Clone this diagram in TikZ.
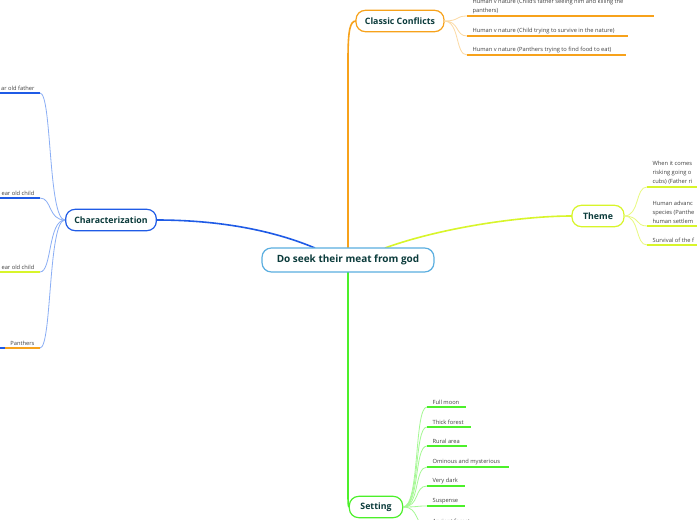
\documentclass[tikz,border=0pt]{standalone}
\usepackage{fontspec}
\setmainfont{Open Sans}
\definecolor{cor}{HTML}{F7A21B}
\definecolor{cyg}{HTML}{D8F52A}
\definecolor{cbl}{HTML}{1F5BE6}
\definecolor{clb}{HTML}{8AAEF5}
\definecolor{cgr}{HTML}{4CF02A}
\definecolor{ccen}{HTML}{5AAEE0}
\definecolor{ctx}{HTML}{0B3B3B}
\begin{document}
\begin{tikzpicture}[x=0.75pt,y=-0.75pt,
 topic/.style={draw,rounded corners=7pt,line width=0.9pt,fill=white,font=\fontsize{6.6}{8}\selectfont\bfseries,text=ctx,inner sep=0pt},
 leaf/.style={font=\fontsize{4.3}{6.6}\selectfont,text=black!75,anchor=south west,inner sep=1pt,align=left}]
\clip (0,0) rectangle (697,520);
\fill[white] (0,0) rectangle (697,520);
% connectors from center
\draw[cor,line width=1.2pt] (348,248) -- (348,60) .. controls (348,30) and (350,21) .. (356,21);
\draw[cgr,line width=1.2pt] (348,272) -- (348,490) .. controls (348,500) and (348,507) .. (349,507);
\draw[cbl,line width=1.2pt] (315,248) .. controls (260,225) and (200,220) .. (156,220);
\draw[cyg,line width=1.2pt] (385,248) .. controls (440,228) and (520,216) .. (572,216);
\node[topic,draw=ccen,minimum width=129pt,minimum height=18pt,font=\fontsize{7.5}{9}\selectfont\bfseries] (c) at (348,260) {Do seek their meat from god};
\node[topic,draw=cor,minimum width=66pt,minimum height=16pt] (cc) at (400,21) {Classic Conflicts};
\node[topic,draw=cyg,minimum width=39pt,minimum height=16pt] (th) at (598,216) {Theme};
\node[topic,draw=cbl,minimum width=68pt,minimum height=16pt] (ch) at (111,220) {Characterization};
\node[topic,draw=cgr,minimum width=40pt,minimum height=16pt] (se) at (376,507) {Setting};
% Classic conflicts leaves
\foreach \y/\e in {16/654,36/628,55/626}{
 \draw[cor!40,line width=0.6pt] (444,21) .. controls (460,21) and (455,\y) .. (467,\y);
 \draw[cor,line width=1.2pt] (467,\y) -- (\e,\y);}
\node[leaf] at (471,15) {Human v nature (Child's father seeing him and killing the\\panthers)};
\node[leaf] at (471,35) {Human v nature (Child trying to survive in the nature)};
\node[leaf] at (471,54) {Human v nature (Panthers trying to find food to eat)};
% Theme leaves
\foreach \y in {187,226,245}{
 \draw[cyg!60,line width=0.6pt] (624,216) .. controls (640,216) and (635,\y) .. (647,\y);
 \draw[cyg,line width=1.2pt] (647,\y) -- (697,\y);}
\node[leaf] at (651,186) {When it comes\\risking going o\\cubs) (Father ri};
\node[leaf] at (651,225) {Human advanc\\species (Panthe\\human settlem};
\node[leaf] at (651,244) {Survival of the f};
% Characterization leaves
\foreach \y/\c in {93/cbl,198/cbl,272/cyg,348/cor}{
 \draw[clb,line width=0.6pt] (65,220) .. controls (48,220) and (52,\y) .. (40,\y);
 \draw[\c,line width=1.2pt] (0,\y) -- (40,\y);}
\draw[cbl,line width=1.2pt] (0,348) -- (5,348);
\node[leaf,anchor=south east] at (36,92) {ar old father};
\node[leaf,anchor=south east] at (36,197) {ear old child};
\node[leaf,anchor=south east] at (36,271) {ear old child};
\node[leaf,anchor=south east] at (36,347) {Panthers};
% Setting leaves
\foreach \y/\e/\t in {407/466/Full moon,427/471/Thick forest,446/467/Rural area,467/509/Ominous and mysterious,486/465/Very dark,506/465/Suspense,526/480/Ancient forest}{
 \draw[cgr!50,line width=0.6pt] (403,507) .. controls (420,507) and (414,\y) .. (427,\y);
 \draw[cgr,line width=1.2pt] (427,\y) -- (\e,\y);
 \node[leaf] at (431,\y-1) {\t};}
\end{tikzpicture}
\end{document}
